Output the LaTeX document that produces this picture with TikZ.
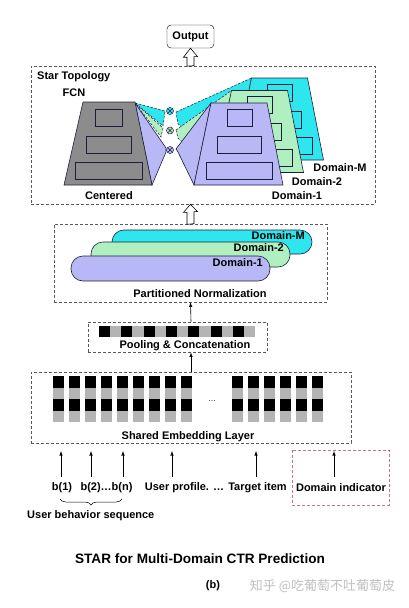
\documentclass[tikz,border=0pt]{standalone}
\usepackage{fontspec}
\setmainfont{Liberation Sans}
\newfontfamily\cjk{Noto Sans CJK SC}
\usetikzlibrary{calc,decorations.pathreplacing}
\definecolor{fcngray}{HTML}{8C8C8C}
\definecolor{dpurple}{HTML}{B8B8F6}
\definecolor{dgreen}{HTML}{B0F0C0}
\definecolor{dcyan}{HTML}{2EE6EE}
\definecolor{edge}{HTML}{1E1E3C}
\definecolor{embgray}{HTML}{B4B4B4}
\definecolor{indred}{HTML}{D27080}
\tikzset{
  lbl/.style={font=\fontsize{11}{13}\selectfont\bfseries, inner sep=0pt},
  dashbox/.style={draw=black!65, dash pattern=on 3pt off 2pt, line width=0.7pt, inner sep=0pt},
  face/.style={draw=edge, line width=0.6pt},
  wedge/.style={draw=edge, line width=0.5pt, dash pattern=on 2.5pt off 1.5pt},
  hollow/.style={draw=black, fill=white, line width=0.6pt},
  otimes/.style={circle, draw=edge, line width=0.5pt, inner sep=0pt, minimum size=7pt,
    path picture={\draw[edge, line width=0.5pt]
      (path picture bounding box.north west) -- (path picture bounding box.south east)
      (path picture bounding box.north east) -- (path picture bounding box.south west);}},
  >=latex
}
\begin{document}
\begin{tikzpicture}[x=1pt, y=-1pt]
\useasboundingbox (0,0) rectangle (408,608);
\node[draw, rounded corners=4pt, lbl, minimum width=47pt, minimum height=23pt] (out) at (190.5,36.5) {Output};
\node[dashbox, minimum width=344pt, minimum height=138pt] (star) at (203,135) {};
\node[lbl, anchor=west] (startitle) at (37,77) {Star Topology};
\node[lbl] (fcn) at (74,93) {FCN};
\draw[face, fill=dpurple] (135,103) -- (166,148) -- (166,152) -- (152,185) -- cycle;
\draw[wedge, fill=dgreen] (136,104) -- (163,128) -- (161,137) -- cycle;
\draw[wedge, fill=dcyan] (135,103) -- (165,111) -- (163,126) -- cycle;
\draw[face, fill=fcngray] (83,102) -- (135,102) -- (152,185) -- (64,185) -- cycle;
\draw[face] (95,109) rectangle (122,126) (86,136) rectangle (131,153) (75,162) rectangle (142,179);
\node[otimes, fill=dcyan] (ox1) at (170,111) {};
\node[otimes, fill=dgreen] (ox2) at (170,130.5) {};
\node[otimes, fill=dpurple] (ox3) at (170,150) {};
\foreach \dx/\dy/\col/\ya/\yb/\st in {40.5/25/dcyan/112/124/wedge, 20.5/12.5/dgreen/130/138/wedge, 0/0/dpurple/149/152/face} {
  \draw[\st, fill=\col] (176,\ya) -- (211+\dx,103-\dy) -- (194+\dx,185-\dy) -- (178,\yb) -- cycle;
  \begin{scope}[shift={(\dx,-\dy)}]
    \draw[face, fill=\col] (211,103) -- (267,103) -- (283,185) -- (194,185) -- cycle;
    \draw[face] (227,109) rectangle (252,126) (217,136) rectangle (261,153) (206,162) rectangle (272,179);
  \end{scope}
}
\node[lbl] (centered) at (109,196) {Centered};
\node[lbl] (fcndm) at (340,168) {Domain-M};
\node[lbl] (fcnd2) at (317,182) {Domain-2};
\node[lbl] (fcnd1) at (297,196) {Domain-1};
\draw[hollow] (out.south |- star.north) ++(3.5,0) -- ++(0,-9) -- ++(3.5,0) -- (out.south) -- ++(-7,9) -- ++(3.5,0) -- ++(0,9) -- cycle;

\node[dashbox, minimum width=273pt, minimum height=78pt] (pn) at (190.5,263) {};
\draw[hollow] (out.south |- pn.north) ++(3.5,0) -- ++(0,-12) -- ++(3.5,0) -- (out.south |- star.south) -- ++(-7,8) -- ++(3.5,0) -- ++(0,12) -- cycle;
\draw[face, fill=dcyan, rounded corners=12pt] (112,230) rectangle (312,254);
\node[lbl, anchor=east] (pndm) at (305,236) {Domain-M};
\draw[face, fill=dgreen, rounded corners=12pt] (91,242) rectangle (290,267);
\node[lbl, anchor=east] (pnd2) at (284,248) {Domain-2};
\draw[face, fill=dpurple, rounded corners=12pt] (71,256) rectangle (270,281);
\node[lbl, anchor=east] (pnd1) at (263,263) {Domain-1};
\node[lbl] (pntitle) at (200,294) {Partitioned Normalization};

\node[dashbox, minimum width=179pt, minimum height=30pt] (pool) at (177.5,337) {};
\fill[embgray] (99,326) rectangle (255,337);
\foreach \x in {99,121.3,...,233} \fill (\x,326) rectangle ++(11,11);
\node[lbl] (pooltitle) at (185,346) {Pooling \& Concatenation};

\node[dashbox, minimum width=320pt, minimum height=71pt] (emb) at (191,407.5) {};
\foreach \xs/\n in {53/8, 232/5}
  \foreach \i in {0,...,\n}
    \foreach \y in {376,399} {
      \fill (\xs+16*\i,\y) rectangle ++(11,11.5);
      \fill[embgray] (\xs+16*\i,\y+11.5) rectangle ++(11,11.5);
    }
\node[font=\fontsize{8}{9}\selectfont] (embdots) at (212,401) {…};
\node[lbl] (embtitle) at (188,437) {Shared Embedding Layer};
\draw[->, line width=0.6pt] (emb.north) -- (emb.north |- pool.south);
\draw[->, line width=0.6pt] (emb.north |- pool.north) -- (pn.south);

\draw[indred, dash pattern=on 3pt off 2pt, line width=0.7pt] (292,450) rectangle (389,505);
\foreach \x [count=\i] in {61,91,123,172,256,334}
  \draw[->, line width=0.6pt] (\x,477) coordinate (tail\i) -- (\x,451) coordinate (head\i);
\node[lbl] (b1) at (62,488) {b(1)};
\node[lbl] (bn) at (106.5,488) {b(2)…b(n)};
\node[lbl] (profile) at (184.5,488) {User profile. …};
\node[lbl] (target) at (257.5,488) {Target item};
\node[lbl] (domain) at (341,488) {Domain indicator};
\draw[line width=0.5pt, decorate, decoration={brace, mirror, amplitude=6pt}] (60,499) -- (122,499);
\node[lbl, anchor=west] (seq) at (27,516) {User behavior sequence};

\node[font=\fontsize{13.6}{16}\selectfont\bfseries] (title) at (200,559) {STAR for Multi-Domain CTR Prediction};
\node[lbl] (sub) at (213,586) {(b)};
\node[font=\cjk\fontsize{13}{15}\selectfont, text=black!25] (mark) at (322.5,586) {知乎 @吃葡萄不吐葡萄皮};
\end{tikzpicture}
\end{document}
